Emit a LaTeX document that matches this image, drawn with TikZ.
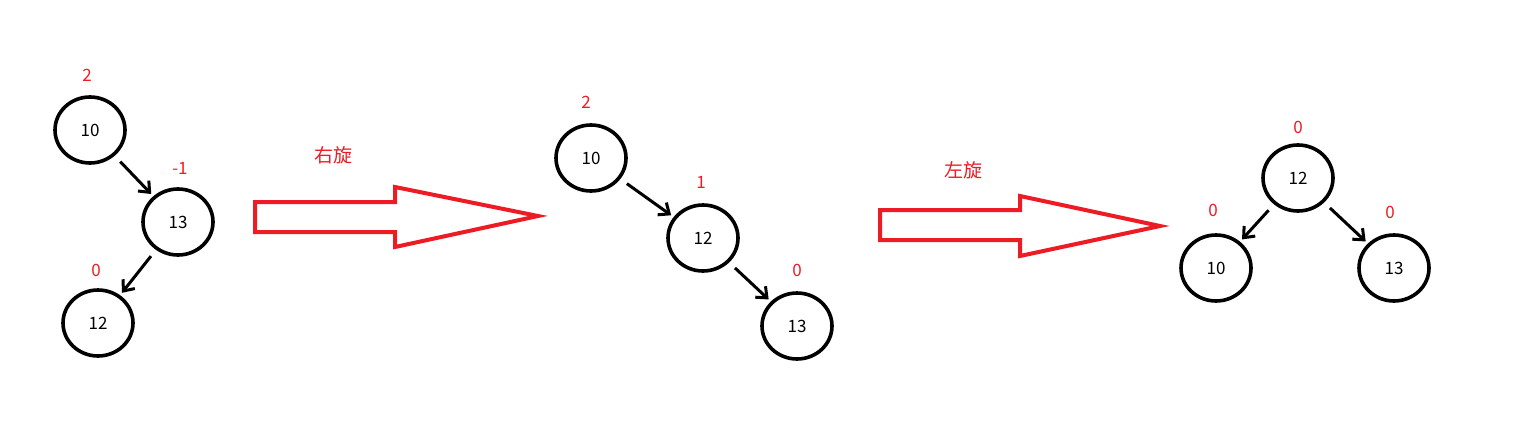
\documentclass[tikz,border=0pt]{standalone}
\usepackage{fontspec}
\setmainfont{Noto Sans CJK SC}
\usetikzlibrary{arrows.meta,shapes.geometric}
\definecolor{pr}{HTML}{ED1C24}
\begin{document}
\begin{tikzpicture}[x=1pt,y=-1pt,
  tn/.style={draw=black,line width=3.6pt,ellipse,minimum width=70pt,minimum height=66pt,inner sep=0pt,font=\fontsize{17}{17}\selectfont},
  bf/.style={text=pr,font=\fontsize{17}{17}\selectfont},
  lb/.style={text=pr,font=\fontsize{19}{19}\selectfont},
  ed/.style={line width=3pt,-{Straight Barb[length=9pt,width=15pt,line width=3pt]},shorten <=8pt,shorten >=3pt},
  big/.style={draw=pr,line width=4pt,line join=miter}]
\useasboundingbox (0,0) rectangle (1538,442);
% tree 1
\node[tn] (a10) at (90,130) {10};
\node[tn] (a13) at (178,222) {13};
\node[tn] (a12) at (98,323) {12};
\node[bf] (la10) at (87,75) {2};
\node[bf] (la13) at (180,168) {-1};
\node[bf] (la12) at (96,270) {0};
\draw[ed] (a10) -- (a13);
\draw[ed] (a13) -- (a12);
% arrow 1
\draw[big] (255,202) -- (395,202) -- (395,187) -- (538,216) -- (395,247) -- (395,232) -- (255,232) -- cycle;
\node[lb] (r1) at (333,155) {右旋};
% tree 2
\node[tn] (b10) at (591,158) {10};
\node[tn] (b12) at (703,238) {12};
\node[tn] (b13) at (797,326) {13};
\node[bf] (lb10) at (586,102) {2};
\node[bf] (lb12) at (701,182) {1};
\node[bf] (lb13) at (797,270) {0};
\draw[ed] (b10) -- (b12);
\draw[ed] (b12) -- (b13);
% arrow 2
\draw[big] (880,210) -- (1020,210) -- (1020,196) -- (1160,226) -- (1020,256) -- (1020,240) -- (880,240) -- cycle;
\node[lb] (r2) at (963,170) {左旋};
% tree 3
\node[tn] (c12) at (1298,178) {12};
\node[tn] (c10) at (1216,268) {10};
\node[tn] (c13) at (1394,268) {13};
\node[bf] (lc12) at (1298,127) {0};
\node[bf] (lc10) at (1213,210) {0};
\node[bf] (lc13) at (1390,212) {0};
\draw[ed] (c12) -- (c10);
\draw[ed] (c12) -- (c13);
\end{tikzpicture}
\end{document}
